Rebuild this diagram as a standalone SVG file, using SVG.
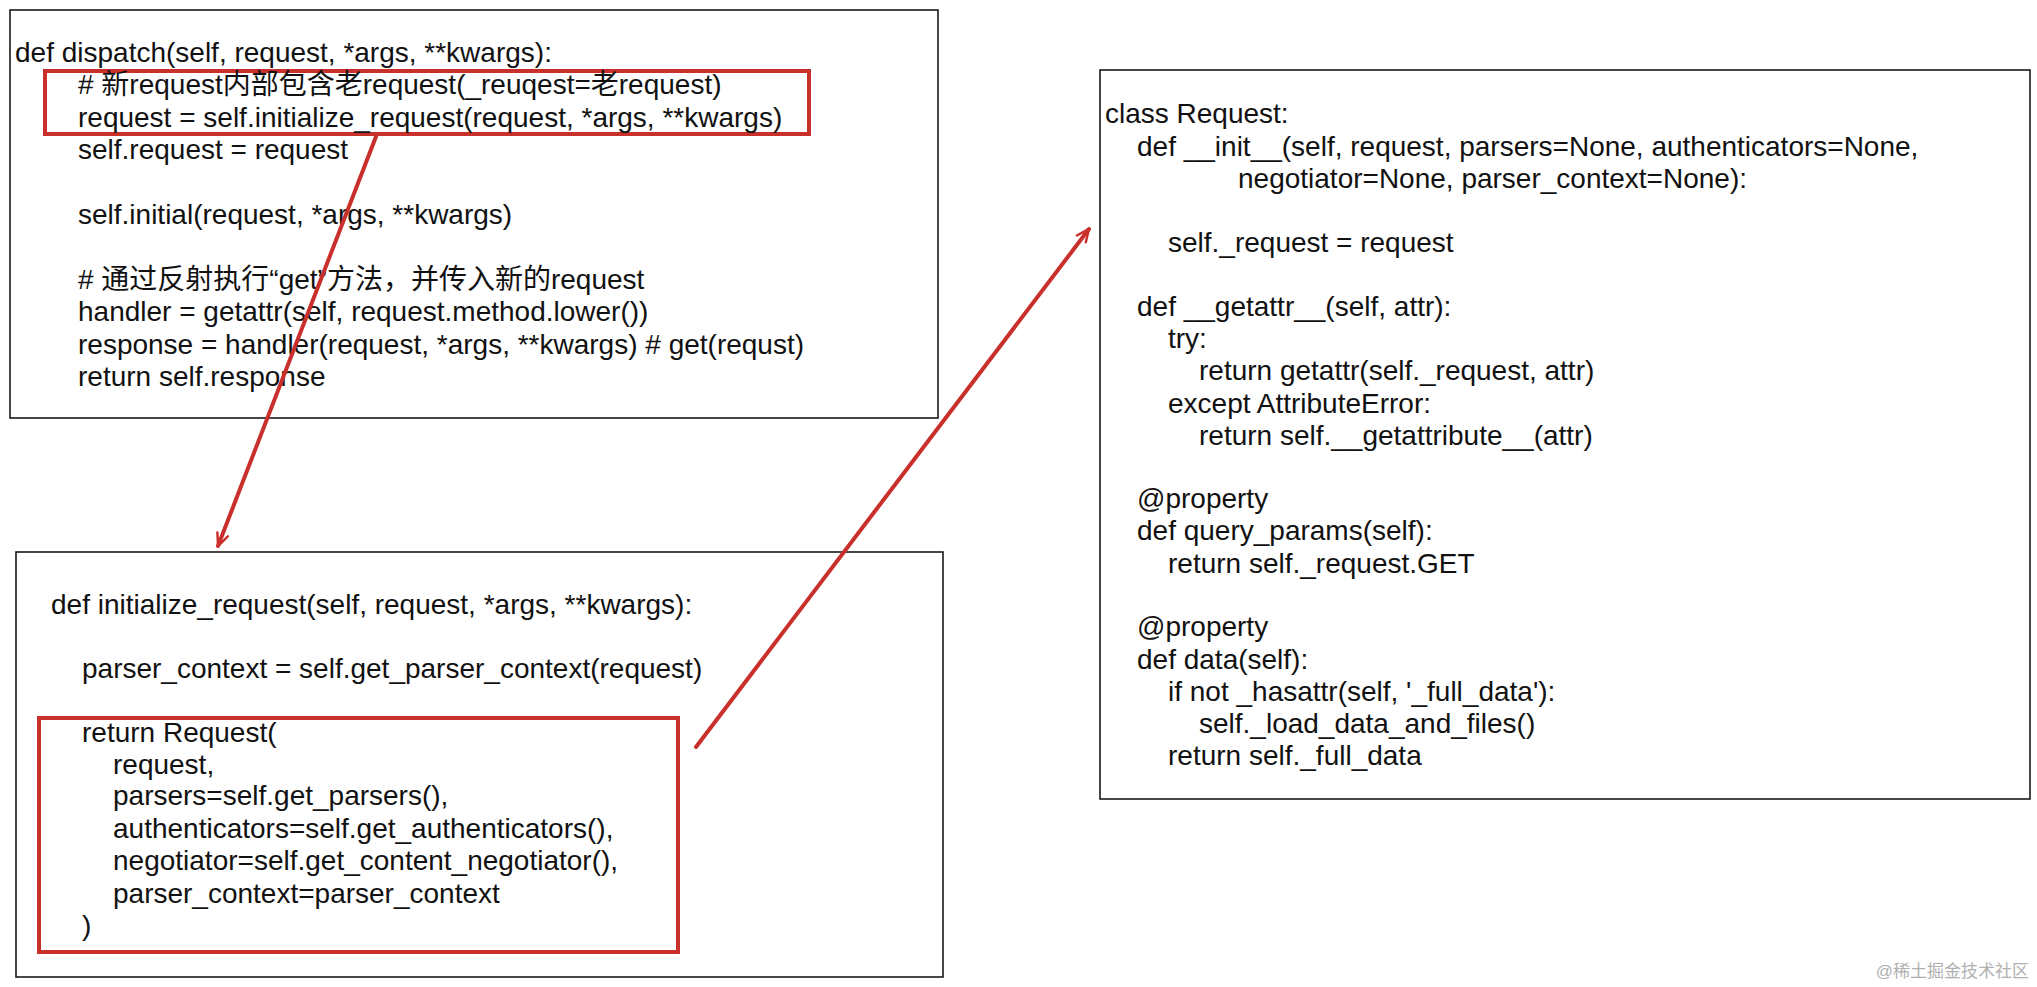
<svg xmlns="http://www.w3.org/2000/svg" width="2037" height="987" viewBox="0 0 2037 987">
<style>
.box{fill:#fff;stroke:#1a1a1a;stroke-width:1.6}
.hl{fill:none;stroke:#c9302c;stroke-width:4}
.c{font-family:"Liberation Sans","Noto Sans CJK SC",sans-serif;font-size:28px;fill:#111}
.r{font-family:"Liberation Sans","Noto Sans CJK SC",sans-serif;font-size:28px;fill:#111}
.conn{fill:none;stroke:#c9302c;stroke-width:4;stroke-linecap:round}
</style>
<defs>
<marker id="ah" viewBox="0 0 20 20" refX="18" refY="10" markerWidth="10" markerHeight="10" markerUnits="userSpaceOnUse" orient="auto" overflow="visible">
<polyline points="0,2 18,10 0,18" fill="none" stroke="#c9302c" stroke-width="3.5" stroke-linecap="round" stroke-linejoin="round" transform="scale(1.4) translate(-5,-3)"/>
</marker>
</defs>
<rect width="2037" height="987" fill="#fff"/>
<g id="dispatch">
<rect class="box" x="10" y="10" width="928" height="408"/>
<rect class="hl" x="45" y="71" width="764" height="63"/>
<g class="c">
<text x="15" y="62">def dispatch(self, request, *args, **kwargs):</text>
<text x="78" y="94">#  新request内部包含老request(_reuqest=老request)</text>
<text x="78" y="127">request = self.initialize_request(request, *args, **kwargs)</text>
<text x="78" y="159">self.request = request</text>
<text x="78" y="224">self.initial(request, *args, **kwargs)</text>
<text x="78" y="289">#  通过反射执行“get”方法，并传入新的request</text>
<text x="78" y="321">handler = getattr(self, request.method.lower())</text>
<text x="78" y="354">response = handler(request, *args, **kwargs) # get(requst)</text>
<text x="78" y="386">return self.response</text>
</g>
</g>
<g id="initialize_request">
<rect class="box" x="16" y="552" width="927" height="425"/>
<rect class="hl" x="39" y="718" width="639" height="234"/>
<g class="c">
<text x="51" y="614">def initialize_request(self, request, *args, **kwargs):</text>
<text x="82" y="678">parser_context = self.get_parser_context(request)</text>
<text x="82" y="742">return Request(</text>
<text x="113" y="774">request,</text>
<text x="113" y="805">parsers=self.get_parsers(),</text>
<text x="113" y="838">authenticators=self.get_authenticators(),</text>
<text x="113" y="870">negotiator=self.get_content_negotiator(),</text>
<text x="113" y="903">parser_context=parser_context</text>
<text x="82" y="935">)</text>
</g>
</g>
<g id="request_class" class="r">
<rect class="box" x="1100" y="70" width="930" height="729"/>
<text x="1105" y="123">class Request:</text>
<text x="1137" y="156">def __init__(self, request, parsers=None, authenticators=None,</text>
<text x="1238" y="188">negotiator=None, parser_context=None):</text>
<text x="1168" y="252">self._request = request</text>
<text x="1137" y="316">def __getattr__(self, attr):</text>
<text x="1168" y="348">try:</text>
<text x="1199" y="380">return getattr(self._request, attr)</text>
<text x="1168" y="413">except AttributeError:</text>
<text x="1199" y="445">return self.__getattribute__(attr)</text>
<text x="1137" y="508">@property</text>
<text x="1137" y="540">def query_params(self):</text>
<text x="1168" y="573">return self._request.GET</text>
<text x="1137" y="636">@property</text>
<text x="1137" y="669">def data(self):</text>
<text x="1168" y="701">if not _hasattr(self, '_full_data'):</text>
<text x="1199" y="733">self._load_data_and_files()</text>
<text x="1168" y="765">return self._full_data</text>
</g>
<g id="connectors">
<line class="conn" x1="377" y1="134" x2="218" y2="546" marker-end="url(#ah)"/>
<line class="conn" x1="696" y1="747" x2="1089" y2="229" marker-end="url(#ah)"/>
</g>
<text x="2029" y="977" text-anchor="end" font-family="Liberation Sans,Noto Sans CJK SC,sans-serif" font-size="17" fill="#b0b0b0">@稀土掘金技术社区</text>
</svg>
